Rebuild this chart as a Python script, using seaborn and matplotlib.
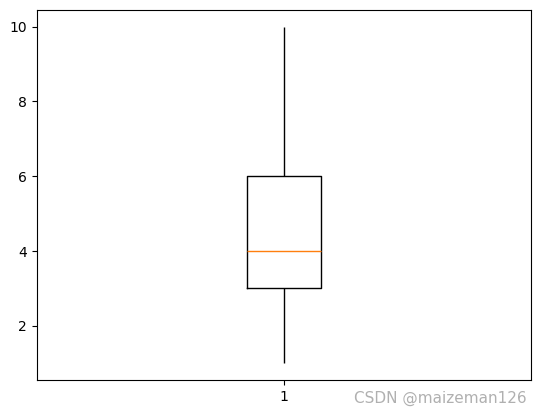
import matplotlib
matplotlib.use("Agg")
import matplotlib.pyplot as plt
import seaborn as sns
import pandas as pd

values = [1, 3, 4, 6, 10]
groups = ["1"] * len(values)

df = pd.DataFrame({"group": groups, "value": values})

fig, ax = plt.subplots(figsize=(5.43, 4.13), dpi=100)
sns.boxplot(data=df, x="group", y="value", ax=ax, width=0.15, fill=False,
            color="black", linewidth=1, whis=1.5,
            medianprops={"color": "#ff7f0e"},
            capprops={"visible": False})
ax.set_xlim(-0.5, 0.5)
ax.set_ylim(0.55, 10.45)
ax.set_yticks([2, 4, 6, 8, 10])
ax.set_xlabel("")
ax.set_ylabel("")
fig.subplots_adjust(left=0.068, right=0.978, top=0.976, bottom=0.08)
fig.text(0.97, 0.018, "CSDN @maizeman126", ha="right", va="bottom",
         color="#b0b0b0", fontsize=11)
fig.savefig("out.png", dpi=100)
